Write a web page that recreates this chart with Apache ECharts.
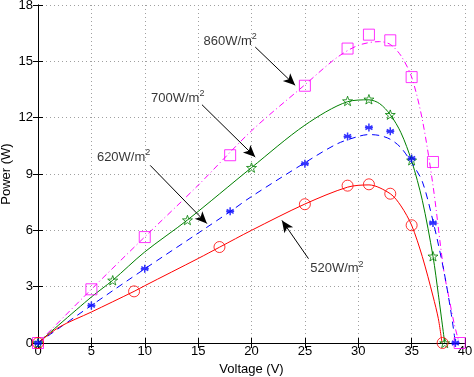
<!DOCTYPE html>
<html>
<head>
<meta charset="utf-8">
<script src="https://cdn.jsdelivr.net/npm/echarts@6.0.0/dist/echarts.min.js"></script>
<style>
  html, body { margin: 0; padding: 0; background: #fff; }
  #chart { width: 474px; height: 377px; }
</style>
</head>
<body>
<div id="chart"></div>
<script>
  'use strict'

  /*----- measured points (markers) -----*/
  var mX860 = [0, 5, 10, 18, 25, 29, 31, 33, 35, 37, 39.5];
  var mP860 = [0, 2.86, 5.64, 10.0, 13.7, 15.68, 16.42, 16.12, 14.16, 9.64, 0];
  var mX700 = [0, 7, 14, 20, 29, 31, 33, 35, 37, 38.1];
  var mP700 = [0, 3.34, 6.55, 9.34, 12.89, 12.98, 12.16, 9.73, 4.62, 0];
  var mX620 = [0, 5, 10, 18, 25, 29, 31, 33, 35, 37, 39.1];
  var mP620 = [0, 2.0, 3.96, 7.01, 9.55, 11.0, 11.47, 11.27, 9.83, 6.39, 0];
  var mX520 = [0, 9, 17, 25, 29, 31, 33, 35, 37.9];
  var mP520 = [0, 2.75, 5.11, 7.39, 8.38, 8.45, 7.95, 6.27, 0];

  /*----- simulated curves -----*/
  var cX860 = [0, 5, 10, 15, 20, 25, 28, 30, 32, 33, 34, 35, 36, 37, 38, 38.5, 39, 39.45];
  var cP860 = [0, 2.86, 5.65, 8.4, 11.3, 13.75, 15.2, 15.85, 16.05, 15.9, 15.3, 14.16, 11.9, 8.4, 3.9, 2.4, 1.0, 0];
  var cX700 = [0, 5, 7, 10, 14, 20, 25, 29, 31, 32, 33, 34, 35, 36, 37, 37.5, 38.1];
  var cP700 = [0, 2.45, 3.34, 4.85, 6.55, 9.34, 11.6, 12.85, 12.95, 12.75, 12.16, 11.2, 9.7, 7.6, 4.62, 2.6, 0];
  var cX620 = [0, 5, 10, 15, 18, 20, 25, 28, 30, 31, 32, 33, 34, 35, 36, 37, 38, 38.7, 39.1];
  var cP620 = [0, 2.0, 3.95, 5.85, 7.0, 7.8, 9.6, 10.6, 11.0, 11.1, 11.05, 10.85, 10.4, 9.6, 8.6, 6.5, 3.9, 1.6, 0];
  var cX520 = [0, 2, 5, 9, 10, 15, 17, 20, 25, 29, 31, 33, 34, 35, 36, 37, 37.5, 37.85];
  var cP520 = [0, 0.85, 1.65, 2.75, 3.05, 4.5, 5.1, 6.0, 7.4, 8.3, 8.42, 7.95, 7.3, 6.27, 4.6, 2.5, 1.3, 0];

  /*----- annotations: label anchor and arrow (data coords) -----*/
  var labelNames = ['860', '700', '620', '520'];
  var labelAt = [[18.0, 16.07], [13.09, 13.03], [8.02, 9.89], [28.0, 3.96]];
  var arrowFrom = [[20.35, 15.76], [15.36, 12.69], [10.51, 9.46], [25.34, 4.49]];
  var arrowTo = [[24.09, 13.72], [20.35, 9.9], [15.82, 6.36], [22.85, 6.53]];

  var xTicks = { min: 0, max: 40, interval: 5 };
  var yTicks = { min: 0, max: 18, interval: 3 };

  function pairs(xs, ys) {
    return xs.map(function (x, i) { return [x, ys[i]]; });
  }

  var font = 'Liberation Sans, Arial, sans-serif';
  var starPath = 'path://M0,-10L2.35,-3.24L9.51,-3.09L3.8,1.24L5.88,8.09L0,4L-5.88,8.09L-3.8,1.24L-9.51,-3.09L-2.35,-3.24Z';
  var asteriskPath = 'path://M0,-10L0,10M-8.66,-5L8.66,5M-8.66,5L8.66,-5M-10,0L10,0';

  function curve(name, xs, ys, color, dash) {
    return {
      name: name,
      type: 'line',
      data: pairs(xs, ys),
      smooth: 0.3,
      symbol: 'none',
      clip: false,
      lineStyle: { color: color, width: 1, type: dash },
      z: 2
    };
  }

  function marks(name, xs, ys, color, symbol, size, bw) {
    return {
      name: name,
      type: 'scatter',
      data: pairs(xs, ys),
      symbol: symbol,
      symbolSize: size,
      symbolKeepAspect: true,
      clip: false,
      itemStyle: { color: 'rgba(0,0,0,0)', borderColor: color, borderWidth: bw },
      z: 3
    };
  }

  var axisLine = { show: true, lineStyle: { color: '#000', width: 1 } };
  var tickIn = { show: true, inside: true, length: 5, lineStyle: { color: '#000' } };

  var option = {
    animation: false,
    backgroundColor: '#fff',
    grid: { left: 38, right: 9, top: 5, bottom: 34, outerBoundsMode: 'none' },
    xAxis: [{
      type: 'value',
      min: xTicks.min, max: xTicks.max, interval: xTicks.interval,
      name: 'Voltage (V)',
      nameLocation: 'middle',
      nameGap: 20,
      nameMoveOverlap: false,
      nameTextStyle: { fontFamily: font, fontSize: 13, color: '#000' },
      axisLine: axisLine,
      axisTick: tickIn,
      axisLabel: { fontFamily: font, fontSize: 13, color: '#000', margin: 2 },
      splitLine: { show: true, lineStyle: { color: '#a0a0a0', type: [1, 3] } }
    }, {
      type: 'value', position: 'top',
      min: xTicks.min, max: xTicks.max, interval: xTicks.interval,
      axisLine: axisLine, axisTick: tickIn,
      axisLabel: { show: false }, splitLine: { show: false }
    }],
    yAxis: [{
      type: 'value',
      min: yTicks.min, max: yTicks.max, interval: yTicks.interval,
      name: 'Power (W)',
      nameLocation: 'middle',
      nameGap: 25,
      nameMoveOverlap: false,
      nameTextStyle: { fontFamily: font, fontSize: 13, color: '#000' },
      axisLine: axisLine,
      axisTick: tickIn,
      axisLabel: { fontFamily: font, fontSize: 13, color: '#000', margin: 5 },
      splitLine: { show: true, lineStyle: { color: '#a0a0a0', type: [1, 3] } }
    }, {
      type: 'value', position: 'right',
      min: yTicks.min, max: yTicks.max, interval: yTicks.interval,
      axisLine: axisLine, axisTick: tickIn,
      axisLabel: { show: false }, splitLine: { show: false }
    }],
    series: [
      curve('860', cX860, cP860, '#ff00ff', [6, 3, 1, 3]),
      curve('700', cX700, cP700, '#008000', 'solid'),
      curve('620', cX620, cP620, '#0000ff', [7, 5]),
      curve('520', cX520, cP520, '#ff0000', 'solid'),
      marks('860m', mX860, mP860, '#ff00ff', 'rect', 11, 1),
      marks('700m', mX700, mP700, '#008000', starPath, 10, 1),
      marks('620m', mX620, mP620, '#0000ff', asteriskPath, 8, 1.5),
      marks('520m', mX520, mP520, '#ff0000', 'circle', 11, 1),
      {
        name: 'notes',
        type: 'scatter',
        data: labelNames.map(function (n, i) { return { value: labelAt[i], name: n }; }),
        symbolSize: 0,
        silent: true,
        clip: false,
        label: {
          show: true,
          position: 'inside',
          formatter: function (p) { return '{t|' + p.name + 'W/m}{s|2}'; },
          rich: {
            t: { fontFamily: font, fontSize: 13, color: '#000' },
            s: { fontFamily: font, fontSize: 9, color: '#000', padding: [0, 0, 9, 0] }
          }
        },
        markLine: {
          silent: true,
          symbol: ['none', 'arrow'],
          symbolSize: [8, 12],
          label: { show: false },
          lineStyle: { color: '#000', width: 1, type: 'solid' },
          data: arrowFrom.map(function (a, i) {
            return [{ coord: a }, { coord: arrowTo[i] }];
          })
        },
        z: 4
      }
    ]
  };

  var chart = echarts.init(document.getElementById('chart'));
  chart.setOption(option);
</script>
</body>
</html>
